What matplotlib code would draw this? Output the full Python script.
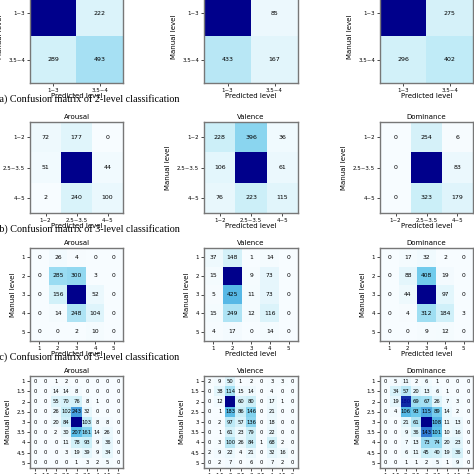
import numpy as np
import matplotlib
matplotlib.use("Agg")
import matplotlib.pyplot as plt
from matplotlib.colors import LinearSegmentedColormap

titles = ["Arousal", "Valence", "Dominance"]
lab2 = ["1~3", "3.5~4"]
lab3 = ["1~2", "2.5~3.5", "4~5"]
lab5 = ["1", "2", "3", "4", "5"]
lab9 = ["1", "1.5", "2", "2.5", "3", "3.5", "4", "4.5", "5"]

m2 = [
    [[1500, 222], [289, 493]],
    [[1500, 85], [433, 167]],
    [[1500, 275], [296, 402]],
]
m3 = [
    [[72, 177, 0], [51, 1500, 44], [2, 240, 100]],
    [[228, 396, 36], [106, 1000, 61], [76, 223, 115]],
    [[0, 254, 6], [0, 1400, 83], [0, 323, 179]],
]
m5 = [
    [[0, 26, 4, 0, 0], [0, 285, 300, 3, 0], [0, 156, 800, 52, 0], [0, 14, 248, 104, 0], [0, 0, 2, 10, 0]],
    [[37, 148, 1, 14, 0], [15, 800, 9, 73, 0], [5, 425, 11, 73, 0], [15, 249, 12, 116, 0], [4, 17, 0, 14, 0]],
    [[0, 17, 32, 2, 0], [0, 88, 408, 19, 0], [0, 44, 900, 97, 0], [0, 4, 312, 184, 3], [0, 0, 9, 12, 0]],
]
m9 = [
    [[0, 0, 1, 2, 0, 0, 0, 0, 0],
     [0, 0, 14, 14, 8, 0, 0, 0, 0],
     [0, 0, 55, 70, 76, 8, 1, 0, 0],
     [0, 0, 26, 102, 243, 32, 0, 0, 0],
     [0, 0, 20, 84, 400, 103, 8, 8, 0],
     [0, 0, 2, 30, 207, 161, 14, 26, 0],
     [0, 0, 0, 11, 78, 93, 9, 36, 0],
     [0, 0, 0, 3, 19, 39, 9, 34, 0],
     [0, 0, 0, 0, 1, 3, 2, 5, 0]],
    [[2, 9, 50, 1, 2, 0, 3, 3, 0],
     [0, 38, 114, 15, 14, 0, 4, 0, 0],
     [0, 12, 350, 60, 80, 0, 17, 1, 0],
     [0, 1, 183, 86, 146, 0, 21, 0, 0],
     [0, 2, 97, 57, 136, 0, 18, 0, 0],
     [0, 1, 61, 23, 79, 0, 22, 0, 0],
     [0, 3, 100, 26, 84, 1, 68, 2, 0],
     [2, 9, 22, 4, 21, 0, 32, 16, 0],
     [0, 2, 7, 0, 6, 0, 7, 2, 0]],
    [[0, 5, 11, 2, 6, 1, 0, 0, 0],
     [0, 34, 57, 20, 13, 6, 1, 0, 0],
     [0, 19, 180, 69, 67, 26, 7, 3, 0],
     [0, 4, 106, 93, 115, 89, 14, 2, 0],
     [0, 0, 21, 61, 200, 108, 11, 13, 0],
     [0, 0, 9, 36, 143, 101, 10, 16, 0],
     [0, 0, 7, 13, 73, 74, 20, 23, 0],
     [0, 0, 6, 11, 45, 40, 19, 36, 0],
     [0, 0, 1, 1, 2, 5, 1, 9, 0]],
]

cmap = LinearSegmentedColormap.from_list(
    "cm", ["#f7fcff", "#c8eef8", "#5ec4ea", "#2a6fd0", "#00008b"])

W = H = 474.0
fig = plt.figure(figsize=(4.74, 4.74), dpi=100)
cols = [(30, 123), (204, 298), (380, 473)]
rows = [(-10, 83, m2, lab2, 4.5), (122, 213, m3, lab3, 4.5),
        (248, 341, m5, lab5, 4.3), (376, 468, m9, lab9, 3.8)]
captions = [(99, "(a) Confusion matrix of 2-level classification"),
            (229, "(b) Confusion matrix of 3-level classification"),
            (357, "(c) Confusion matrix of 5-level classification")]

for (yt, yb, mats, labs, fs) in rows:
    for j, (xl, xr) in enumerate(cols):
        ax = fig.add_axes([xl / W, 1 - yb / H, (xr - xl) / W, (yb - yt) / H])
        a = np.array(mats[j])
        ax.imshow(a, cmap=cmap, aspect="auto", vmin=0, vmax=a.max())
        n = len(labs)
        for r in range(n):
            for c in range(n):
                v = a[r, c]
                col = "#00008b" if v > 0.8 * a.max() else "black"
                ax.text(c, r, str(v), ha="center", va="center", fontsize=fs, color=col)
        ax.set_xticks(range(n))
        ax.set_xticklabels(labs, fontsize=4)
        ax.set_yticks(range(n))
        ax.set_yticklabels(labs, fontsize=4)
        ax.tick_params(length=2, width=0.5, pad=1.5)
        ax.set_title(titles[j], fontsize=5, pad=2)
        ax.set_xlabel("Predicted level", fontsize=5, labelpad=0)
        ax.set_ylabel("Manual level", fontsize=5, labelpad=4)
        for s in ax.spines.values():
            s.set_color("#777777")
            s.set_linewidth(1.0)

for y, txt in captions:
    fig.text(-0.008, 1 - y / H, txt, fontsize=7.3, family="Liberation Serif", va="center")

fig.savefig("out.png", dpi=100)
